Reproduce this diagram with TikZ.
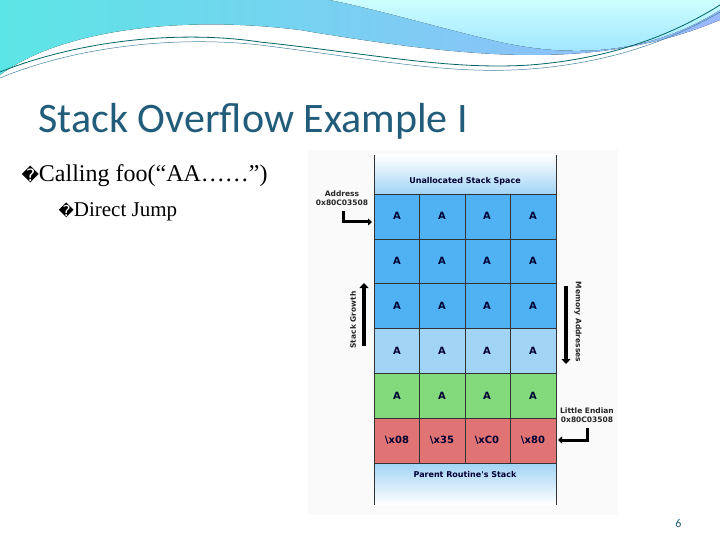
\documentclass[tikz,border=0pt]{standalone}
\usepackage{fontspec}
\usetikzlibrary{arrows.meta}
\setmainfont{Liberation Serif}
\newfontfamily\carl{Carlito}
\newfontfamily\dvs{DejaVu Sans}
\definecolor{stb}{HTML}{50B2F2}
\definecolor{stl}{HTML}{A2D4F5}
\definecolor{stg}{HTML}{82DA7C}
\definecolor{str}{HTML}{E07474}
\definecolor{ttl}{HTML}{215C7A}
\begin{document}
\begin{tikzpicture}[x=1pt,y=-1pt,
  cell/.style={draw=black!80,line width=0.6pt},
  lbl/.style={font=\dvs\bfseries\fontsize{8}{9}\selectfont,text=black!80!blue},
  small/.style={font=\dvs\bfseries\fontsize{7.5}{8.5}\selectfont,align=center,text=black!85}]
\useasboundingbox (0,0) rectangle (720,540);
\fill[white] (0,0) rectangle (720,540);
% header waves
\fill[left color=cyan!60!white!90!black, right color=cyan!30!blue!40!white] (0,0) -- (720,0) -- (720,20) .. controls (600,70) and (480,60) .. (300,30) .. controls (180,15) and (60,30) .. (0,75) -- cycle;
\fill[top color=cyan!20!white, bottom color=blue!30!cyan!40] (330,0) -- (720,0) -- (720,10) .. controls (640,60) and (560,55) .. (500,42) .. controls (440,28) and (380,10) .. (330,0) -- cycle;
\draw[teal!80!black,line width=0.8pt] (0,72) .. controls (80,40) and (180,30) .. (260,42) .. controls (380,55) and (450,70) .. (530,65) .. controls (620,58) and (680,30) .. (720,5);
\draw[cyan!60!black,line width=0.5pt] (0,78) .. controls (80,45) and (180,36) .. (260,45) .. controls (380,60) and (450,75) .. (530,69) .. controls (620,62) and (680,35) .. (720,12);
% title
\node[anchor=base west,font=\carl\fontsize{42}{46}\selectfont,text=ttl] (title) at (35,133) {Stack Overflow Example I};
\node[anchor=base west,font=\fontsize{24}{26}\selectfont] (b1) at (18,182) {{\dvs\fontsize{17}{18}\selectfont �}Calling foo(“AA……”)};
\node[anchor=base west,font=\fontsize{21}{23}\selectfont] (b2) at (55,216) {{\dvs\fontsize{15}{16}\selectfont �}Direct Jump};
\node[anchor=base east,font=\carl\fontsize{12}{14}\selectfont,text=ttl] (pg) at (685,527) {6};
% stack image
\fill[black!2] (308,150) rectangle (618,515);
\fill[top color=white,bottom color=stl] (374,155) rectangle (556,194);
\node[lbl] (un) at (465,181) {Unallocated Stack Space};
\foreach \r/\c in {0/stb,1/stb,2/stb,3/stl,4/stg,5/str}{
  \fill[\c] (374,194+45*\r) rectangle (556,239+45*\r);}
\fill[top color=stl,bottom color=white] (374,463) rectangle (556,505);
\node[lbl] (par) at (465,475) {Parent Routine's Stack};
\draw[cell] (374,155) -- (374,505) (556,155) -- (556,505);
\foreach \y in {194,239,283,328,373,418,463} \draw[cell] (374,\y) -- (556,\y);
\foreach \x in {419,465,510} \draw[cell] (\x,194) -- (\x,463);
\foreach \r in {0,...,4} \foreach \x in {397,442,487,533} \node[lbl,font=\dvs\bfseries\fontsize{10}{11}\selectfont] at (\x,216+45*\r) {A};
\foreach \x/\t in {397/\textbackslash x08,442/\textbackslash x35,487/\textbackslash xC0,533/\textbackslash x80} \node[lbl,font=\dvs\bfseries\fontsize{10}{11}\selectfont] at (\x,440) {\t};
% annotations
\node[small] (addr) at (342,198) {Address\\0x80C03508};
\coordinate (a1) at (343,211);
\coordinate (a2) at (372,222);
\draw[line width=3pt,-{Triangle[length=4pt,width=7pt]}] (a1) |- (a2);
\node[small] (le) at (587,415) {Little Endian\\0x80C03508};
\coordinate (l1) at (587,428);
\coordinate (l2) at (558,440);
\draw[line width=3pt,-{Triangle[length=4pt,width=7pt]}] (l1) |- (l2);
\coordinate (s1) at (364,346); \coordinate (s2) at (364,283);
\draw[line width=4pt,-{Triangle[length=5pt,width=9pt]}] (s1) -- (s2);
\node[small,rotate=90] (sg) at (353,320) {Stack Growth};
\coordinate (m1) at (566,286); \coordinate (m2) at (566,364);
\draw[line width=4pt,-{Triangle[length=5pt,width=9pt]}] (m1) -- (m2);
\node[small,rotate=-90] (ma) at (578,322) {Memory Addresses};
\end{tikzpicture}
\end{document}
